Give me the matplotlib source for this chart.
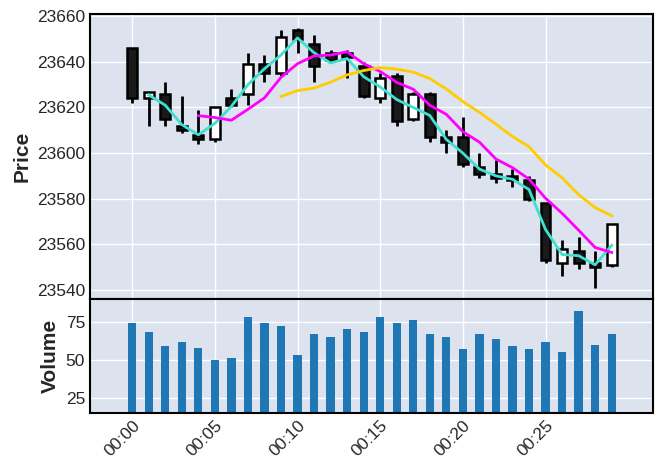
import matplotlib
matplotlib.use("Agg")
import matplotlib.pyplot as plt
import numpy as np
import pandas as pd

plt.rcParams['font.family'] = ['Liberation Sans', 'DejaVu Sans']

opens  = [23646,23624,23626,23612,23608,23606,23624,23626,23639,23635,23654,23648,23644,23644,23638,23624,23634,23615,23626,23607,23607,23594,23591,23590,23588,23578,23552,23557,23552,23551]
highs  = [23646,23627,23631,23625,23619,23620,23628,23644,23643,23654,23655,23652,23645,23645,23640,23635,23635,23627,23627,23610,23616,23600,23597,23593,23590,23578,23562,23563,23557,23569]
lows   = [23622,23612,23612,23609,23604,23605,23620,23621,23631,23634,23644,23631,23640,23633,23624,23622,23612,23614,23605,23600,23594,23589,23587,23585,23579,23552,23546,23549,23541,23550]
closes = [23624,23627,23615,23610,23606,23620,23621,23639,23635,23651,23650,23638,23641,23642,23625,23633,23614,23626,23607,23605,23595,23591,23589,23588,23580,23553,23558,23552,23550,23569]
volumes = [74,68,59,62,58,50,51,78,74,72,53,67,65,70,68,78,74,76,67,65,57,67,64,59,57,62,55,82,60,67]
tick_labels = ["00:00","00:05","00:10","00:15","00:20","00:25"]
mav_windows = [2,5,10]
mav_colors = ["#40e0d0","#ff00ff","#ffcc00"]

bg = "#dce3ee"
tc = "#262626"
fig = plt.figure(figsize=(6.64,4.61), dpi=100)
ax = fig.add_axes([90/664, 1-299/461, 563/664, 285/461])
axv = fig.add_axes([90/664, 1-413/461, 563/664, 114/461], sharex=ax)
x = np.arange(len(closes))
for a in (ax, axv):
    a.set_facecolor(bg)
    a.grid(True, color="white", lw=1)
    a.set_axisbelow(True)
    for s in a.spines.values():
        s.set_color("black"); s.set_linewidth(1.5)
    a.tick_params(labelsize=12.5, length=0, labelcolor=tc)

w = 0.6
for i in x:
    o,h,l,c = opens[i],highs[i],lows[i],closes[i]
    up = c >= o
    ax.vlines(i, l, h, color="black", lw=2, zorder=2)
    ax.bar(i, max(abs(c-o),0.6), w, bottom=min(o,c), color="white" if up else "#1a1a1a",
           edgecolor="black", lw=1.8, zorder=3)
s = pd.Series(closes)
for win, col in zip(mav_windows, mav_colors):
    ax.plot(x, s.rolling(win).mean(), color=col, lw=2, zorder=4)
ax.set_ylim(23536, 23661)
ax.set_yticks(np.arange(23540, 23661, 20))
ax.set_ylabel("Price", fontsize=15, fontweight="bold", color=tc)
ax.tick_params(labelbottom=False)

axv.bar(x, volumes, 0.5, color="#1f77b4")
axv.set_ylim(15, 90)
axv.set_yticks([25,50,75])
axv.set_ylabel("Volume", fontsize=15, fontweight="bold", color=tc)
axv.set_xlim(-2.55, 31.5)
axv.set_xticks(np.arange(0, 30, 5))
axv.set_xticklabels(tick_labels, rotation=45, ha="right", rotation_mode="anchor")
fig.savefig("out.png", dpi=100)
